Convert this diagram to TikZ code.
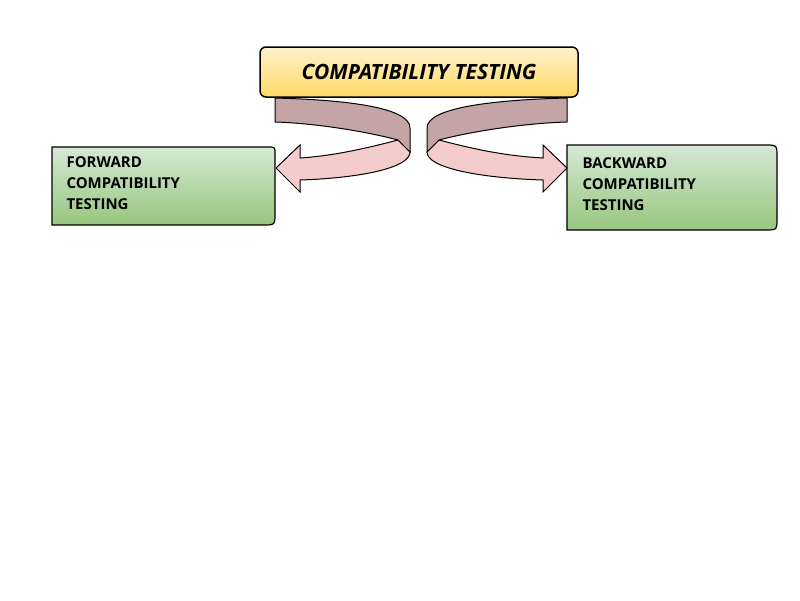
\documentclass[tikz,border=0pt]{standalone}
\usepackage{fontspec}
\setmainfont{Open Sans}
\begin{document}
\begin{tikzpicture}[x=1pt,y=-1pt,
  box/.style={draw=black,line width=1.2pt,inner sep=0pt},
  green/.style={box,top color=green!10!white!80!olive!20,bottom color=green!40!black!30!white},
  back/.style={draw=black,line width=1pt,fill=black!25!red!25!gray!70!white},
  front/.style={draw=black,line width=1pt,fill=red!20!white},
  lbl/.style={font=\fontsize{15}{21}\selectfont\bfseries,align=left,anchor=north west}]
\useasboundingbox (0,0) rectangle (800,600);
\definecolor{gtop}{HTML}{D5E8D4}\definecolor{gbot}{HTML}{97C67E}
\definecolor{ytop}{HTML}{FFF2CC}\definecolor{ybot}{HTML}{FFD966}
\definecolor{dk}{HTML}{C4A4A4}\definecolor{pk}{HTML}{F4CCCC}
% title
\node[draw=black,line width=1.5pt,rounded corners=6pt,top color=ytop,bottom color=ybot,minimum width=318pt,minimum height=50pt,
  font=\fontsize{21}{25}\selectfont\bfseries\itshape] (t) at (419,72) {COMPATIBILITY TESTING};
% left arrow
\draw[line width=1pt,fill=pk] (398,140) .. controls (360,150) and (330,156) .. (300,158) -- (300,145) -- (276,168) -- (300,192) -- (300,180)
  .. controls (360,178) and (410,168) .. (410,152) -- cycle;
\draw[line width=1pt,fill=dk] (275,98) .. controls (350,100) and (410,108) .. (410,128) -- (410,152) -- (398,140)
  .. controls (360,130) and (310,123) .. (275,122) -- cycle;
% right arrow
\draw[line width=1pt,fill=pk] (439,140) .. controls (477,150) and (507,156) .. (543,158) -- (543,145) -- (567,168) -- (543,192) -- (543,180)
  .. controls (480,178) and (427,168) .. (427,152) -- cycle;
\draw[line width=1pt,fill=dk] (567,98) .. controls (490,100) and (427,108) .. (427,128) -- (427,152) -- (439,140)
  .. controls (477,130) and (530,123) .. (567,122) -- cycle;
% boxes
\path[draw=black,line width=1.2pt,top color=gtop,bottom color=gbot] (52,147) -- (268,147) .. controls (275,147) .. (275,154) -- (275,213)
  .. controls (275,225) .. (263,225) -- (52,225) -- cycle;
\node[lbl] (fl) at (63,153) {FORWARD\\COMPATIBILITY\\TESTING};
\path[draw=black,line width=1.2pt,top color=gtop,bottom color=gbot] (567,145) -- (765,145) .. controls (777,145) .. (777,157) -- (777,218)
  .. controls (777,230) .. (765,230) -- (567,230) -- cycle;
\node[lbl] (bl) at (579,154) {BACKWARD\\COMPATIBILITY\\TESTING};
\end{tikzpicture}
\end{document}
